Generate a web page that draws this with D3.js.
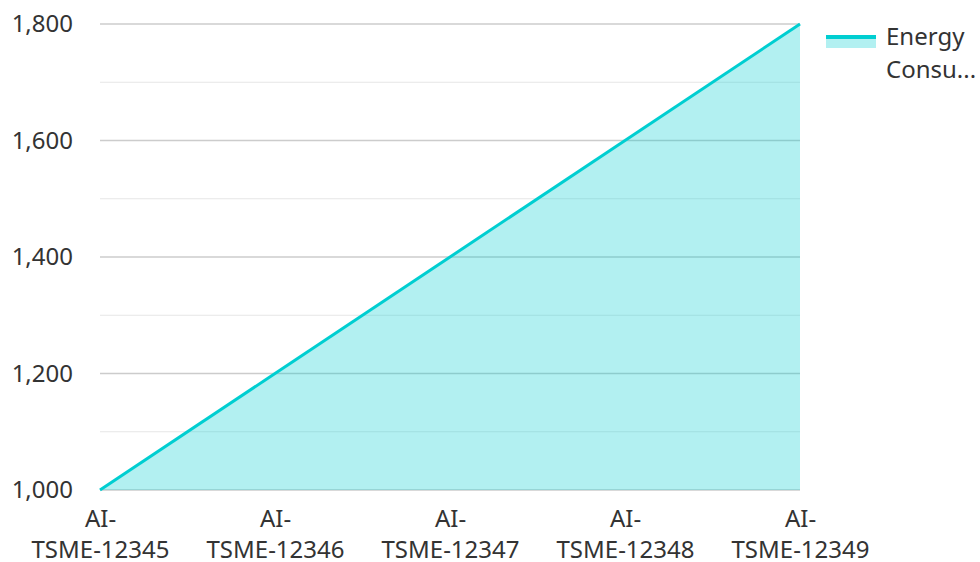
<!DOCTYPE html>
<html>
<head>
<meta charset="utf-8">
<script src="https://cdn.jsdelivr.net/npm/d3@7"></script>
<style>
  html, body { margin: 0; padding: 0; background: #fff; }
  svg { display: block; }
  svg text { font-family: "Noto Sans", "Open Sans", sans-serif; }
</style>
</head>
<body>
<svg id="chart" width="980" height="562"></svg>
<script>
// Energy consumption per model
const categories = ["AI-TSME-12345", "AI-TSME-12346", "AI-TSME-12347", "AI-TSME-12348", "AI-TSME-12349"];
const energyValues = [1000, 1200, 1400, 1600, 1800];
const majorTicks = [1000, 1200, 1400, 1600, 1800];
const minorTicks = [1100, 1300, 1500, 1700];
const seriesName = "Energy Consumption";

const lineColor = "#00CED1";
const textColor = "#333333";
const fontSize = "24px";

const svg = d3.select("#chart");
const margin = { left: 100, right: 180, top: 24, bottom: 72 };
const width = 980, height = 562;

const x = d3.scalePoint().domain(categories).range([margin.left, width - margin.right]);
const y = d3.scaleLinear().domain([1000, 1800]).range([height - margin.bottom, margin.top]);

// Grid lines
const grid = svg.append("g");
grid.selectAll(".minor").data(minorTicks).join("line")
  .attr("x1", margin.left).attr("x2", width - margin.right)
  .attr("y1", d => y(d)).attr("y2", d => y(d))
  .attr("stroke", "#e6e6e6").attr("stroke-width", 1);
grid.selectAll(".major").data(majorTicks).join("line")
  .attr("x1", margin.left).attr("x2", width - margin.right)
  .attr("y1", d => y(d)).attr("y2", d => y(d))
  .attr("stroke", "#cccccc").attr("stroke-width", 1.5);

// Area and line
const data = categories.map((c, i) => ({ c, v: energyValues[i] }));
svg.append("path").datum(data)
  .attr("d", d3.area().x(d => x(d.c)).y0(y(1000)).y1(d => y(d.v)))
  .attr("fill", lineColor).attr("fill-opacity", 0.3);
svg.append("path").datum(data)
  .attr("d", d3.line().x(d => x(d.c)).y(d => y(d.v)))
  .attr("fill", "none").attr("stroke", lineColor).attr("stroke-width", 3);

// Y axis labels
const yAxis = svg.append("g")
  .attr("transform", `translate(${margin.left},0)`)
  .call(d3.axisLeft(y).tickValues(majorTicks).tickFormat(d3.format(",")).tickSize(0).tickPadding(27));
yAxis.attr("font-family", null).attr("font-size", null);
yAxis.select(".domain").remove();
yAxis.selectAll("text").attr("fill", textColor).style("font-size", fontSize);

// X axis labels, split onto two lines after the first hyphen
const xAxis = svg.append("g")
  .attr("transform", `translate(0,${y(1000)})`)
  .call(d3.axisBottom(x).tickSize(0).tickFormat(""));
xAxis.attr("font-family", null).attr("font-size", null);
xAxis.select(".domain").remove();
xAxis.selectAll(".tick").each(function(d) {
  const idx = d.indexOf("-");
  const lines = [d.slice(0, idx + 1), d.slice(idx + 1)];
  const t = d3.select(this).append("text")
    .attr("fill", textColor).attr("text-anchor", "middle")
    .style("font-size", fontSize);
  lines.forEach((ln, i) => {
    t.append("tspan").attr("x", 0).attr("y", 37 + i * 31).text(ln);
  });
});

// Legend
const lg = svg.append("g").attr("transform", "translate(826,37)");
lg.append("rect").attr("x", 0).attr("y", 0).attr("width", 50).attr("height", 11)
  .attr("fill", lineColor).attr("fill-opacity", 0.3);
lg.append("line").attr("x1", 0).attr("x2", 50).attr("y1", 0).attr("y2", 0)
  .attr("stroke", lineColor).attr("stroke-width", 4);
const lt = lg.append("text").attr("fill", textColor).style("font-size", fontSize);
lt.append("tspan").attr("x", 60).attr("y", 8).text("Energy");
lt.append("tspan").attr("x", 60).attr("y", 41).text("Consu...");
lt.append("title").text(seriesName);
</script>
</body>
</html>
